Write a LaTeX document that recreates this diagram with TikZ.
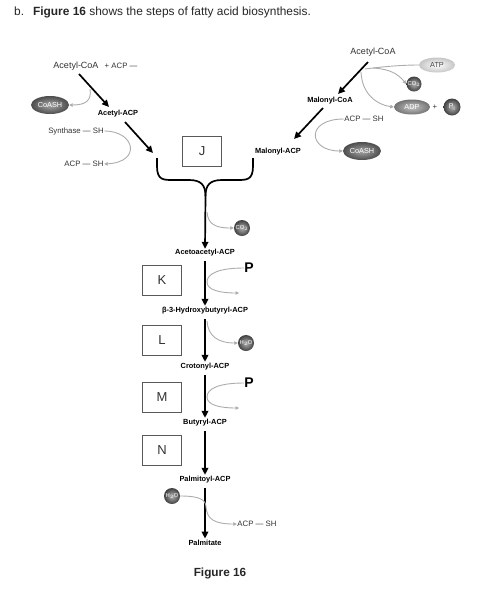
\documentclass[tikz,border=0pt]{standalone}
\usepackage{fontspec}
\setmainfont{Liberation Sans}
\usetikzlibrary{arrows.meta,shapes.geometric}
\tikzset{
  mainarrow/.style={line width=1.7pt, -{Triangle[length=7pt,width=6.5pt]}},
  sidearrow/.style={draw=gray!65, line width=0.9pt, -{Triangle[length=3.5pt,width=3.5pt]}},
  sideline/.style={draw=gray!65, line width=0.9pt},
  lab/.style={font=\fontsize{7.8}{9}\selectfont, text=black!80, inner sep=0.5pt},
  biglab/.style={font=\fontsize{9}{10}\selectfont, text=black!80, inner sep=0.5pt},
  blab/.style={font=\bfseries\fontsize{7.4}{9}\selectfont, inner sep=0.5pt},
  letterbox/.style={draw=black!65, line width=0.9pt, minimum width=39pt, minimum height=30pt, font=\fontsize{13}{15}\selectfont, text=black!80},
  ell/.style={ellipse, minimum width=36pt, minimum height=15pt, inner sep=0pt, font=\fontsize{7.3}{8}\selectfont},
  darkell/.style={ell, minimum width=38pt, minimum height=18pt, shading=radial, inner color=gray!70, outer color=black!70, text=white},
  midell/.style={ell, shading=radial, inner color=gray!45, outer color=gray!90!black, text=white},
  lightell/.style={ell, shading=radial, inner color=white, outer color=gray!45, text=gray!55!black},
  ballnode/.style={circle, minimum size=16pt, inner sep=0pt, shading=radial, inner color=gray!60, outer color=black!75, text=white, font=\fontsize{5.8}{7}\selectfont},
  bigp/.style={font=\bfseries\fontsize{14}{15}\selectfont, inner sep=0pt}
}
\begin{document}
\begin{tikzpicture}[x=1pt,y=-1pt]
\useasboundingbox (0,0) rectangle (479,590);
% title
\node[anchor=west, inner sep=0pt, font=\fontsize{11.9}{13}\selectfont, text=black!85] (title) at (14,12) {b.\hspace{9pt}\textbf{Figure 16} shows the steps of fatty acid biosynthesis.};
% left branch
\node[biglab] (acoaL) at (76,66) {Acetyl-CoA};
\node[lab, anchor=west] (acpL) at (104,66) {+ ACP —};
\node[darkell] (coashL) at (50,105) {CoASH};
\node[blab] (acacp) at (118,114) {Acetyl-ACP};
\node[lab] (synth) at (76,131) {Synthase — SH};
\node[lab] (acpshL) at (84,164) {ACP — SH};
\node[letterbox] (J) at (202,151) {J};
\coordinate (a1s) at (79,74);
\coordinate (a1e) at (109,107);
\coordinate (a2s) at (125,122);
\coordinate (a2e) at (153,153);
\draw[mainarrow] (a1s) -- (a1e);
\draw[mainarrow] (a2s) -- (a2e);
\coordinate (c1) at (90,89);
\draw[sidearrow] (c1) .. controls (92,101) and (85,105) .. (coashL.east);
\draw[sidearrow] (synth.east) .. controls (135,131) and (142,162) .. (acpshL.east);
% right branch
\node[biglab] (acoaR) at (373,52) {Acetyl-CoA};
\node[lightell] (atp) at (437,65) {ATP};
\node[ballnode, minimum size=15pt] (co2a) at (414,84) {CO$_2$};
\node[midell] (adp) at (412,107) {ADP};
\node[lab] (plus) at (435,107) {+};
\node[ballnode, minimum size=17pt, font=\fontsize{7}{8}\selectfont] (pi) at (452,107) {P$_\mathrm{i}$};
\node[blab] (malcoa) at (330,101) {Malonyl-CoA};
\node[lab] (acpshR) at (364,119) {ACP — SH};
\node[darkell] (coashR) at (362,151) {CoASH};
\node[blab] (malacp) at (278,152) {Malonyl-ACP};
\coordinate (a3s) at (368,62);
\coordinate (a3e) at (338,94);
\coordinate (a4s) at (323,108);
\coordinate (a4e) at (294,139);
\draw[mainarrow] (a3s) -- (a3e);
\draw[mainarrow] (a4s) -- (a4e);
\coordinate (j1) at (365,69);
\coordinate (j2) at (373,68);
\coordinate (j3) at (361,72);
\draw[sideline] (atp.west) .. controls (400,65) and (380,67) .. (j1);
\draw[sidearrow] (j2) .. controls (390,69) and (398,74) .. (co2a.west);
\draw[sidearrow] (j3) .. controls (362,95) and (378,105) .. (adp.west);
\draw[sidearrow] (acpshR.west) .. controls (305,119) and (308,151) .. (coashR.west);
% brace
\coordinate (bl) at (157,158);
\coordinate (br) at (253,158);
\coordinate (cusp) at (205.5,196);
\draw[line width=1.7pt] (bl) -- (157,166) .. controls (157,180) and (163,180) .. (173,180) -- (189,180) .. controls (201,180) and (205.5,185) .. (cusp);
\draw[line width=1.7pt] (br) -- (253,166) .. controls (253,180) and (247,180) .. (237,180) -- (222,180) .. controls (210,180) and (205.5,185) .. (cusp);
% main chain
\node[blab] (acac) at (205,253) {Acetoacetyl-ACP};
\node[ballnode] (co2b) at (242,228) {CO$_2$};
\node[letterbox] (K) at (162,280) {K};
\node[bigp] (p1) at (249,268) {P};
\node[blab] (hb) at (205,311) {β-3-Hydroxybutyryl-ACP};
\node[letterbox] (L) at (162,340) {L};
\node[ballnode] (h2oa) at (246,343) {H$_2$O};
\node[blab] (crot) at (205,367) {Crotonyl-ACP};
\node[letterbox] (M) at (162,397) {M};
\node[bigp] (p2) at (249,383) {P};
\node[blab] (but) at (205,423) {Butyryl-ACP};
\node[letterbox] (N) at (162,450) {N};
\node[blab] (palm) at (205,480) {Palmitoyl-ACP};
\node[ballnode] (h2ob) at (172,496) {H$_2$O};
\node[lab] (acpshB) at (257,524) {ACP — SH};
\node[blab] (palmitate) at (205,543) {Palmitate};
\node[font=\bfseries\fontsize{11.8}{13}\selectfont, text=black!85, inner sep=0pt] (fig) at (220,573) {Figure 16};
\draw[mainarrow] (cusp) -- (acac.north);
\draw[mainarrow] (acac.south) ++(0,4) -- ([yshift=1pt]hb.north);
\draw[mainarrow] (hb.south) ++(0,4) -- ([yshift=1pt]crot.north);
\draw[mainarrow] (crot.south) ++(0,4) -- ([yshift=1pt]but.north);
\draw[mainarrow] (but.south) ++(0,4) -- ([yshift=1pt]palm.north);
\draw[mainarrow] (palm.south) ++(0,4) -- ([yshift=1pt]palmitate.north);
% side reactions
\coordinate (s1) at (207,212);
\draw[sidearrow] (s1) .. controls (208,224) and (215,228) .. (co2b.west);
\coordinate (s2) at (207,282);
\coordinate (e2) at (239,293);
\draw[sideline] (p1.west) .. controls (218,268) and (207,274) .. (s2);
\draw[sidearrow] (s2) .. controls (207,290) and (220,293) .. (e2);
\coordinate (s3) at (207,321);
\draw[sidearrow] (s3) .. controls (208,336) and (218,343) .. (h2oa.west);
\coordinate (s4) at (207,397);
\coordinate (e4) at (239,408);
\draw[sideline] (p2.west) .. controls (218,383) and (207,389) .. (s4);
\draw[sidearrow] (s4) .. controls (207,405) and (220,408) .. (e4);
\coordinate (s5) at (206,507);
\draw[sideline] (h2ob.east) .. controls (198,496) and (206,499) .. (s5);
\draw[sidearrow] (s5) .. controls (207,519) and (214,524) .. (acpshB.west);
\end{tikzpicture}
\end{document}
